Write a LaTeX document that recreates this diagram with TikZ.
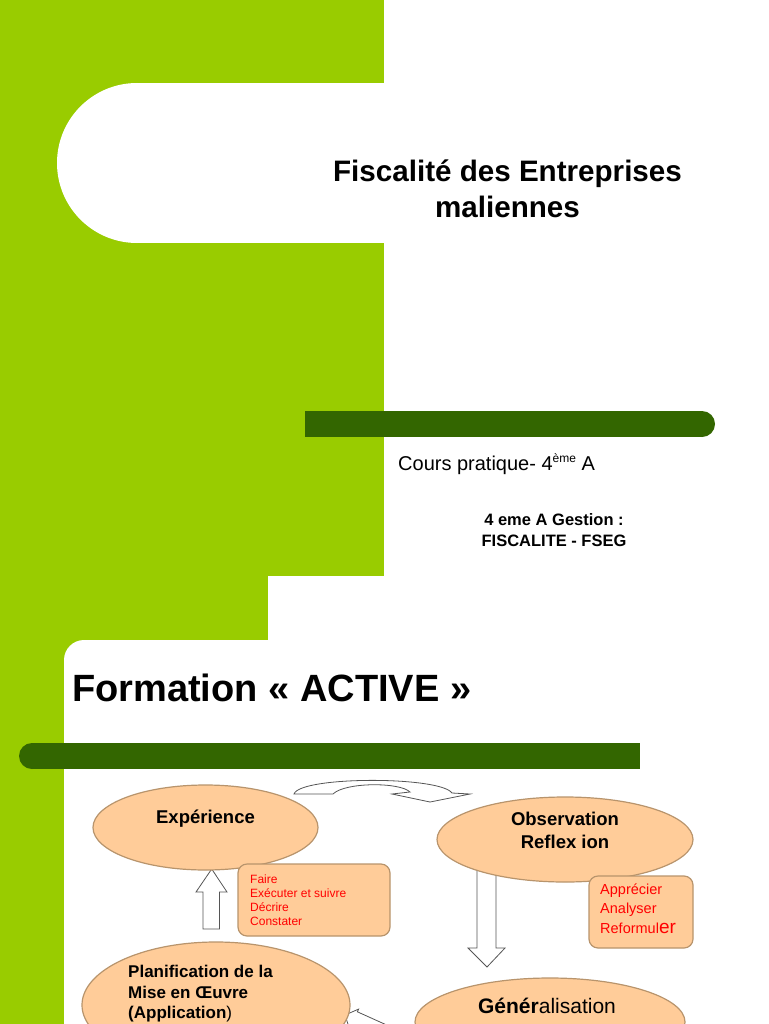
\documentclass[tikz,border=0pt]{standalone}
\usepackage{fontspec}
\setmainfont{Liberation Sans}
\usetikzlibrary{shapes.geometric}
\definecolor{lgreen}{HTML}{99CC00}
\definecolor{dgreen}{HTML}{336600}
\definecolor{peach}{HTML}{FFCC99}
\definecolor{peachborder}{HTML}{B8946C}
\definecolor{arrowgray}{HTML}{555555}
\definecolor{redtext}{HTML}{FF0000}
\begin{document}
\begin{tikzpicture}[x=1pt,y=-1pt,
  bubble/.style={ellipse, draw=peachborder, fill=peach, line width=1.2pt, inner sep=0pt},
  notebox/.style={rectangle, rounded corners=9pt, draw=peachborder, fill=peach, line width=1.2pt},
  blockarrow/.style={draw=arrowgray, fill=white, line width=0.8pt, line join=miter},
  bubbletext/.style={font=\bfseries\fontsize{18.5}{23}\selectfont, align=center, inner sep=0pt},
  notetext/.style={text=redtext, align=left, anchor=north west, inner sep=0pt}]
\useasboundingbox (0,0) rectangle (768,1024);
\clip (0,0) rectangle (768,1024);
% ---------- slide 1 ----------
\fill[lgreen] (0,0) rectangle (384,576);
\fill[white] (137,163) circle[radius=80pt];
\fill[white] (137,83) rectangle (390,243);
\fill[dgreen] (305,411) rectangle (702,437);
\fill[dgreen] (702,424) circle[radius=13pt];
\node[font=\bfseries\fontsize{29.6}{36}\selectfont, align=center] (title) at (507.5,189) {Fiscalité des Entreprises\\maliennes};
\node[anchor=base west, inner sep=0pt, font=\fontsize{20}{24}\selectfont] (cours) at (398,470) {Cours pratique- 4\raisebox{7.5pt}{\fontsize{12}{12}\selectfont ème} A};
\node[font=\bfseries\fontsize{16.5}{21}\selectfont, align=center] (gestion) at (554,530.5) {4 eme A Gestion :\\FISCALITE - FSEG};
% ---------- slide 2 ----------
\fill[lgreen] (0,576) rectangle (268,660);
\fill[lgreen] (0,576) rectangle (64,1024);
\fill[white, rounded corners=20pt] (64,1040) -- (64,640) -- (300,640) -- (300,1040) -- cycle;
\fill[dgreen] (32,743) rectangle (640,769);
\fill[dgreen] (32,756) circle[radius=13pt];
\node[anchor=base west, inner sep=0pt, font=\bfseries\fontsize{38}{44}\selectfont] (formation) at (72,701) {Formation « ACTIVE »};
% arrows
\draw[blockarrow] (203,929) -- (203,892) -- (196,892) -- (211.7,869) -- (227,892) -- (219.5,892) -- (219.5,929) -- cycle;
\draw[blockarrow] (477,870) -- (477,948) -- (468,948) -- (487,967) -- (505,948) -- (496,948) -- (496,870) -- cycle;
\draw[blockarrow] (294,794) .. controls (300,776) and (440,776) .. (452,793) -- (470,794) -- (430,802) -- (392,794) -- (410,792) .. controls (400,782) and (345,782) .. (333,794) -- cycle;
\draw[blockarrow] (345,1015) -- (358.6,1009.1) -- (357.4,1011.8) -- (448.4,1052.8) -- (441.8,1067.4) -- (350.8,1026.4) -- (349.6,1029.1) -- cycle;
% bubbles
\node[bubble, minimum width=225pt, minimum height=85pt] (exp) at (205.5,827.5) {};
\node[bubble, minimum width=256pt, minimum height=85pt] (obs) at (565,839.5) {};
\node[bubble, minimum width=268pt, minimum height=126pt] (plan) at (216,1005) {};
\node[bubble, minimum width=270pt, minimum height=88pt] (gen) at (550,1022) {};
\node[bubbletext] (exptext) at (205.5,819) {Expérience};
\node[bubbletext] (obstext) at (565,830) {Observation\\Reflex ion};
\node[inner sep=0pt, anchor=west, align=left, font=\bfseries\fontsize{17}{20.5}\selectfont] (plantext) at (128,994) {Planification de la\\Mise en Œuvre\\(Application\mdseries)};
\node[inner sep=0pt, font=\fontsize{21}{24}\selectfont] (gentext) at (547,1006) {\textbf{Génér}alisation};
% note boxes
\node[notebox, minimum width=152pt, minimum height=72pt] (faire) at (314,900) {};
\node[notebox, minimum width=104pt, minimum height=72pt] (appr) at (641,912) {};
\node[notetext, font=\fontsize{12}{14}\selectfont] (fairetext) at (250,875) {Faire\\Exécuter et suivre\\Décrire\\Constater};
\node[notetext, font=\fontsize{14.5}{18.5}\selectfont] (apprtext) at (600,884) {Apprécier\\Analyser\\[2pt]Reformul{\fontsize{19}{20}\selectfont er}};
\end{tikzpicture}
\end{document}
